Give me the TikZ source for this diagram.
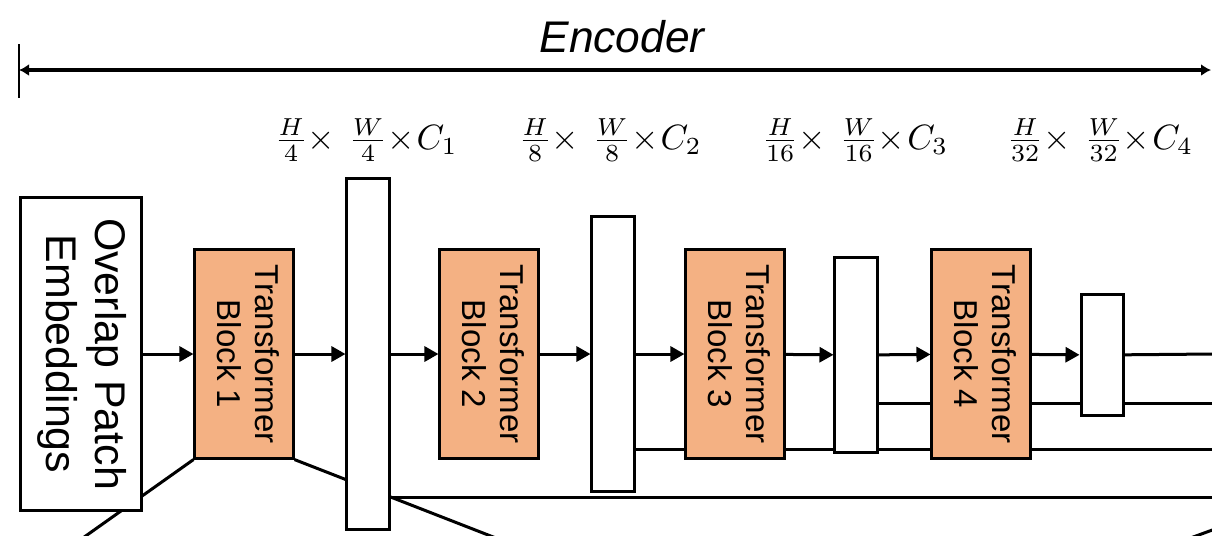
\documentclass[tikz,border=0pt]{standalone}
\usepackage{fontspec}
\setmainfont{Liberation Sans}
\usepackage{graphicx}
\usepackage{xcolor}
\usetikzlibrary{arrows.meta, backgrounds}

\definecolor{blockorange}{HTML}{F4B183}
\newcommand{\turned}[1]{\rotatebox{-90}{\begin{tabular}{@{}c@{}}#1\end{tabular}}}
\newcommand{\dimsize}[3]{$\frac{H}{#1}{\times}\mkern7mu\frac{W}{#1}{\times}\mkern1mu C_{#2}$#3}

\begin{document}
\begin{tikzpicture}[x=0.01cm, y=-0.01cm,
    box/.style={draw, line width=0.03cm, inner sep=0pt},
    block/.style={box, fill=blockorange, minimum width=0.98cm, minimum height=2.08cm,
        font=\fontsize{9.4}{10.8}\selectfont},
    feat/.style={box, fill=white, minimum width=0.42cm},
    link/.style={line width=0.03cm},
    flow/.style={link, -{Triangle[length=0.14cm, width=0.15cm]}},
    dims/.style={font=\fontsize{10}{12}\selectfont}]
    \useasboundingbox (0,0) rectangle (1212,535);

    \node[font=\fontsize{12.6}{15}\selectfont\itshape] (enc) at (622,37) {Encoder};
    \coordinate (tickT) at (19,44);
    \coordinate (tickB) at (19,98);
    \coordinate (encL) at (19,70);
    \coordinate (encR) at (1211,70);

    \node[box, fill=white, minimum width=1.21cm, minimum height=3.12cm,
        font=\fontsize{12.2}{14.2}\selectfont] (emb) at (81,354) {\turned{Overlap Patch\\Embeddings}};
    \node[block] (tb1) at (244,354) {\turned{Transformer\\Block 1}};
    \node[block] (tb2) at (489,354) {\turned{Transformer\\Block 2}};
    \node[block] (tb3) at (735,354) {\turned{Transformer\\Block 3}};
    \node[block] (tb4) at (981,354) {\turned{Transformer\\Block 4}};

    \node[feat, minimum height=3.51cm] (bar1) at (368,354) {};
    \node[feat, minimum height=2.74cm] (bar2) at (613,354) {};
    \node[feat, minimum height=1.95cm] (bar3) at (856,355) {};
    \node[feat, minimum height=1.20cm] (bar4) at (1102,355) {};

    \node[dims] (dim1) at (366,140) {\dimsize{4}{1}{}};
    \node[dims] (dim2) at (610,140) {\dimsize{8}{2}{}};
    \node[dims] (dim3) at (855,140) {\dimsize{16}{3}{}};
    \node[dims] (dim4) at (1100,140) {\dimsize{32}{4}{}};

    \coordinate (out1) at (1212,354);
    \coordinate (out2) at (1212,403);
    \coordinate (out3) at (1212,449);
    \coordinate (out4) at (1212,497);
    \coordinate (diagL) at (80,540);
    \coordinate (diagR) at (501,540);
    \coordinate (cutA) at (1185,540);
    \coordinate (cutB) at (1215,529);

    % encoder span
    \draw[line width=0.02cm] (tickT) -- (tickB);
    \draw[line width=0.04cm, {Latex[length=0.1cm, width=0.12cm]}-{Latex[length=0.1cm, width=0.12cm]}]
        (encL) -- (encR);

    % main flow
    \draw[flow] (emb) -- (tb1);
    \draw[flow] (tb1) -- (bar1);
    \draw[flow] (bar1) -- (tb2);
    \draw[flow] (tb2) -- (bar2);
    \draw[flow] (bar2) -- (tb3);
    \draw[flow] (tb3) -- (bar3);
    \draw[flow] (bar3) -- (tb4);
    \draw[flow] (tb4) -- (bar4);
    \draw[link] (bar4) -- (out1);

    % skip outputs, behind the boxes
    \begin{scope}[on background layer]
        \draw[link] (bar3.east |- out2) -- (out2);
        \draw[link] (bar2.east |- out3) -- (out3);
        \draw[link] (bar1.east |- out4) -- (out4);
        \draw[link] (tb1.south west) -- (diagL);
        \draw[link] (tb1.south east) -- (diagR);
        \draw[link] (cutA) -- (cutB);
    \end{scope}
\end{tikzpicture}
\end{document}
